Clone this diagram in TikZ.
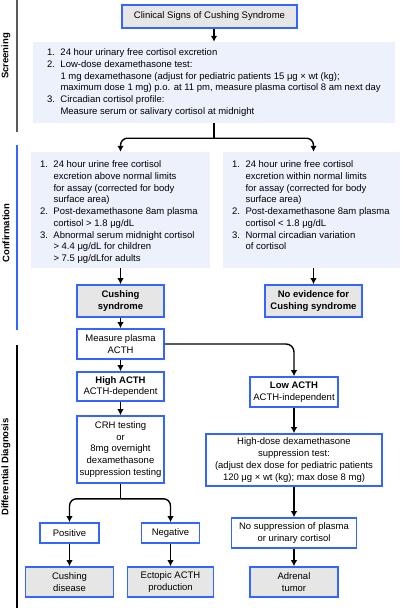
\documentclass[tikz,border=0pt]{standalone}
\usepackage{fontspec}
\setmainfont{Liberation Sans}
\usepackage{tikz}
\usetikzlibrary{arrows.meta}
\usepackage{xcolor}
\definecolor{cblue}{RGB}{51,102,255}
\definecolor{panelblue}{RGB}{237,241,252}
\definecolor{termgray}{RGB}{230,230,230}
\definecolor{bargray}{RGB}{90,90,90}
\newcommand{\nr}[1]{\makebox[13.5pt][l]{#1}}
\newcommand{\nrind}{\hspace*{13.5pt}}

\begin{document}
\begin{tikzpicture}[x=1pt, y=-1pt,
    txt/.style={font=\fontsize{9.5}{11.7}\selectfont},
    panel/.style={txt, fill=panelblue, inner sep=0pt},
    whitebox/.style={txt, draw=cblue, line width=1.6pt, fill=white, align=center, inner sep=1pt},
    graybox/.style={whitebox, fill=termgray},
    arr/.style={-{Latex[length=6pt,width=6.5pt]}, line width=1.4pt},
    sidelabel/.style={font=\fontsize{9.5}{11}\selectfont\bfseries, rotate=90}]
    \useasboundingbox (0,0) rectangle (402,608);

    % Phases at the left side
    \draw[bargray, line width=1.5pt] (17,0) -- (17,132);
    \draw[cblue, line width=1.5pt] (17,145) -- (17,330);
    \draw[black, line width=1.5pt] (17,345) -- (17,608);
    \node[sidelabel] (lblscreen) at (6,56) {Screening};
    \node[sidelabel] (lblconf) at (6,233) {Confirmation};
    \node[sidelabel] (lbldiff) at (6,467) {Differential Diagnosis};

    % Screening
    \node[graybox, minimum width=175, minimum height=23] (clinical) at (209.5,16.5) {Clinical Signs of Cushing Syndrome};
    \node[panel, minimum width=362, minimum height=81] (screen) at (214,82.5) {\parbox{334pt}{\raggedright
        \nr{1.}24 hour urinary free cortisol excretion\\
        \nr{2.}Low-dose dexamethasone test:\\
        \nrind 1 mg dexamethasone (adjust for pediatric patients 15 μg × wt (kg);\\
        \nrind maximum dose 1 mg) p.o. at 11 pm, measure plasma cortisol 8 am next day\\
        \nr{3.}Circadian cortisol profile:\\
        \nrind Measure serum or salivary cortisol at midnight}};

    % Confirmation
    \node[panel, minimum width=179, minimum height=116] (confpos) at (120.5,210) {\parbox[c][98pt][t]{161pt}{\raggedright
        \nr{1.}24 hour urine free cortisol\\
        \nrind excretion above normal limits\\
        \nrind for assay (corrected for body\\
        \nrind surface area)\\
        \nr{2.}Post-dexamethasone 8am plasma\\
        \nrind cortisol > 1.8 μg/dL\\
        \nr{3.}Abnormal serum midnight cortisol\\
        \nrind > 4.4 μg/dL for children\\
        \nrind > 7.5 μg/dLfor adults}};
    \node[panel, minimum width=177, minimum height=116] (confneg) at (311.5,210) {\parbox[c][98pt][t]{159pt}{\raggedright
        \nr{1.}24 hour urine free cortisol\\
        \nrind excretion within normal limits\\
        \nrind for assay (corrected for body\\
        \nrind surface area)\\
        \nr{2.}Post-dexamethasone 8am plasma\\
        \nrind cortisol < 1.8 μg/dL\\
        \nr{3.}Normal circadian variation\\
        \nrind of cortisol}};
    \node[graybox, font=\fontsize{9.5}{11.2}\selectfont\bfseries, minimum width=87, minimum height=32] (cushsyn) at (120.5,301) {Cushing\\syndrome};
    \node[graybox, font=\fontsize{9.5}{11.2}\selectfont\bfseries, minimum width=97, minimum height=32] (noevid) at (313.5,301) {No evidence for\\Cushing syndrome};

    % Differential diagnosis
    \node[whitebox, minimum width=87, minimum height=30] (measure) at (120.5,344) {Measure plasma\\ACTH};
    \node[whitebox, minimum width=87, minimum height=29] (highacth) at (120.5,386.5) {\textbf{High ACTH}\\ACTH-dependent};
    \node[whitebox, minimum width=88, minimum height=30] (lowacth) at (294,392) {\textbf{Low ACTH}\\ACTH-independent};
    \node[whitebox, minimum width=87, minimum height=67] (crh) at (120.5,449.5) {CRH testing\\or\\8mg overnight\\dexamethasone\\suppression testing};
    \node[whitebox, minimum width=176, minimum height=52] (hidose) at (294,460) {High-dose dexamethasone\\suppression test:\\(adjust dex dose for pediatric patients\\120 μg × wt (kg); max dose 8 mg)};
    \node[whitebox, minimum width=59, minimum height=20] (positive) at (69.5,533) {Positive};
    \node[whitebox, minimum width=58, minimum height=20] (negative) at (170.5,533) {Negative};
    \node[whitebox, minimum width=125, minimum height=30] (nosupp) at (294,533) {No suppression of plasma\\or urinary cortisol};
    \node[graybox, minimum width=88, minimum height=30] (cushdis) at (69.5,582) {Cushing\\disease};
    \node[graybox, minimum width=86, minimum height=30] (ectopic) at (170.5,582) {Ectopic ACTH\\production};
    \node[graybox, minimum width=88, minimum height=30] (adrenal) at (294,582) {Adrenal\\tumor};

    % Connectors
    \draw[arr] (screen.north |- clinical.south) -- (screen.north);
    \draw[line width=1.4pt] (screen.south) -- ++(0,15) coordinate (split1);
    \draw[arr, rounded corners=7pt] (split1) -| (cushsyn.north |- confpos.north);
    \draw[arr, rounded corners=7pt] (split1) -| (noevid.north |- confneg.north);
    \draw[arr] (confpos.south -| cushsyn.north) -- (cushsyn.north);
    \draw[arr] (confneg.south -| noevid.north) -- (noevid.north);
    \draw[arr] (cushsyn) -- (measure);
    \draw[arr] (measure) -- (highacth);
    \draw[arr, rounded corners=8pt] (measure.east) -| (lowacth.north);
    \draw[arr] (highacth) -- (crh);
    \draw[arr] (lowacth) -- (hidose);
    \draw[line width=1.4pt] (crh.south) -- ++(0,15) coordinate (split2);
    \draw[arr, rounded corners=7pt] (split2) -| (positive.north);
    \draw[arr, rounded corners=7pt] (split2) -| (negative.north);
    \draw[arr] (positive) -- (cushdis);
    \draw[arr] (negative) -- (ectopic);
    \draw[arr] (hidose) -- (nosupp);
    \draw[arr] (nosupp) -- (adrenal);
\end{tikzpicture}
\end{document}
